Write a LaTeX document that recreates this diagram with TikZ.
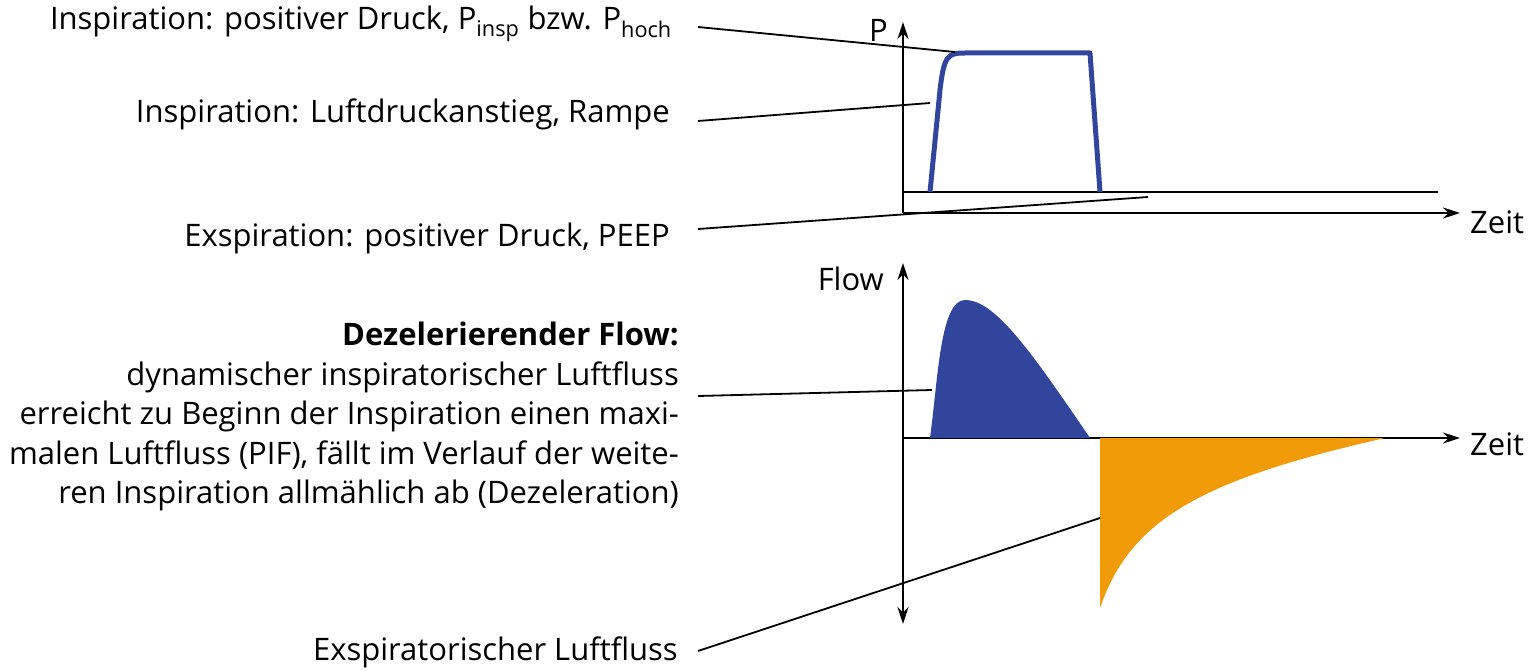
\documentclass[tikz,border=0pt]{standalone}
\usepackage{fontspec}
\setmainfont{Open Sans}
\usetikzlibrary{arrows.meta}
\begin{document}
\begin{tikzpicture}[x=1pt,y=-1pt,
 lbl/.style={font=\fontsize{31}{39.5}\selectfont,inner sep=0pt},
 ax/.style={line width=2pt,-{Stealth[length=17pt,width=11pt]}},
 lead/.style={line width=1.8pt},
 curve/.style={line width=5pt,draw=blueC}]
\definecolor{blueC}{HTML}{32459C}
\definecolor{orangeC}{HTML}{F29B0A}
\useasboundingbox (0,0) rectangle (1534,671);
% top graph
\coordinate (o1) at (903,213);
\coordinate (ytop) at (903,22);
\coordinate (xend) at (1460,213);
\draw[ax] (o1) -- (ytop);
\draw[ax] (o1) -- (xend);
\draw[line width=2pt] (903,192) -- (1438,192);
\draw[curve,line join=round] (930,192) -- (940,90) .. controls (944,55) and (948,53) .. (965,53) -- (1090,53) -- (1100,192);
\node[lbl,anchor=east] (P) at (888,30) {P};
\node[lbl,anchor=west] (z1) at (1470,222) {Zeit};
\node[lbl,anchor=east] (t1) at (672,24) {Inspiration: positiver Druck, P\textsubscript{insp} bzw. P\textsubscript{hoch}};
\node[lbl,anchor=east] (t2) at (670,114) {Inspiration: Luftdruckanstieg, Rampe};
\node[lbl,anchor=east] (t3) at (670,238) {Exspiration: positiver Druck, PEEP};
\coordinate (a1) at (955,52); \coordinate (a2) at (930,103); \coordinate (a3) at (1148,197);
\draw[lead] (698,27) -- (a1);
\draw[lead] (698,121) -- (a2);
\draw[lead] (698,229) -- (a3);
% bottom graph
\coordinate (o2) at (903,438);
\draw[ax] (o2) -- (903,263);
\draw[ax] (o2) -- (903,624);
\draw[ax] (o2) -- (1460,438);
\fill[blueC] (930,438) .. controls (938,380) and (940,300) .. (965,300) .. controls (995,300) and (1030,350) .. (1090,438) -- cycle;
\fill[orangeC] (1100,438) -- (1100,608) .. controls (1130,520) and (1200,480) .. (1385,438) -- cycle;
\node[lbl,anchor=east] (F) at (884,279) {Flow};
\node[lbl,anchor=west] (z2) at (1470,444) {Zeit};
\node[lbl,anchor=north east,align=right] (t4) at (679,322) {\textbf{Dezelerierender Flow:}\\dynamischer inspiratorischer Luftfluss\\erreicht zu Beginn der Inspiration einen maxi-\\malen Luftfluss (PIF), fällt im Verlauf der weite-\\ren Inspiration allmählich ab (Dezeleration)};
\node[lbl,anchor=east] (t5) at (678,652) {Exspiratorischer Luftfluss};
\coordinate (b1) at (932,390); \coordinate (b2) at (1100,518);
\draw[lead] (698,396) -- (b1);
\draw[lead] (698,651) -- (b2);
\end{tikzpicture}
\end{document}
